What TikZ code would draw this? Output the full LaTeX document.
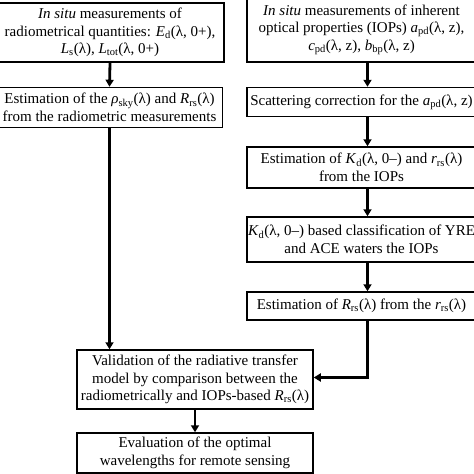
\documentclass[tikz,border=0pt]{standalone}
\usepackage{fontspec}
\setmainfont{Liberation Serif}
\usetikzlibrary{arrows.meta}
\newcommand{\sbs}[1]{\textsubscript{#1}}
\begin{document}
\begin{tikzpicture}[x=1pt,y=-1pt,
  box/.style={draw, line width=1.5pt, align=center, inner sep=0pt, anchor=center,
    font=\fontsize{15}{17.5}\selectfont},
  arr/.style={line width=2.8pt, -{Triangle[length=7pt,width=8pt]}}]
\useasboundingbox (0,0) rectangle (474,474);
\clip (0,0) rectangle (474,474);
\fill[white] (0,0) rectangle (474,474);
% left column
\node[box, minimum width=228pt, minimum height=59pt] (L1) at (110,32.5)
  {\textit{In situ} measurements of\\ radiometrical quantities: \textit{E}\sbs{d}(λ, 0+),\\ \textit{L}\sbs{s}(λ), \textit{L}\sbs{tot}(λ, 0+)};
\node[box, minimum width=226pt, minimum height=40pt] (L2) at (109.5,107.5)
  {Estimation of the \textit{ρ}\sbs{sky}(λ) and \textit{R}\sbs{rs}(λ)\\ from the radiometric measurements};
% right column
\node[box, minimum width=229pt, minimum height=65pt] (R1) at (361.5,29.5)
  {\textit{In situ} measurements of inherent\\ optical properties (IOPs) \textit{a}\sbs{pd}(λ, z),\\ \textit{c}\sbs{pd}(λ, z), \textit{b}\sbs{bp}(λ, z)};
\node[box, minimum width=229pt, minimum height=29pt] (R2) at (361.5,102)
  {Scattering correction for the \textit{a}\sbs{pd}(λ, z)};
\node[box, minimum width=229pt, minimum height=41pt] (R3) at (361.5,167.5)
  {Estimation of \textit{K}\sbs{d}(λ, 0–) and \textit{r}\sbs{rs}(λ)\\ from the IOPs};
\node[box, minimum width=229pt, minimum height=45pt] (R4) at (361.5,239.5)
  {\textit{K}\sbs{d}(λ, 0–) based classification of YRE\\ and ACE waters the IOPs};
\node[box, minimum width=229pt, minimum height=28pt] (R5) at (361.5,306)
  {Estimation of \textit{R}\sbs{rs}(λ) from the \textit{r}\sbs{rs}(λ)};
% bottom
\node[box, minimum width=236pt, minimum height=59pt] (V) at (195,379.5)
  {Validation of the radiative transfer\\ model by comparison between the\\ radiometrically and IOPs-based \textit{R}\sbs{rs}(λ)};
\node[box, minimum width=236pt, minimum height=40pt] (E) at (195,453)
  {Evaluation of the optimal\\ wavelengths for remote sensing};
% connectors
\draw[arr] (L1.south) -- (L2.north);
\draw[arr] (L2.south) -- (L2.south |- V.north);
\draw[arr] ([xshift=6pt]R1.south) -- ([xshift=6pt]R2.north);
\draw[arr] ([xshift=6pt]R2.south) -- ([xshift=6pt]R3.north);
\draw[arr] ([xshift=6pt]R3.south) -- ([xshift=6pt]R4.north);
\draw[arr] ([xshift=6pt]R4.south) -- ([xshift=6pt]R5.north);
\draw[arr] ([xshift=6pt]R5.south) |- ([yshift=2pt]V.east);
\draw[arr] (V.south) -- (E.north);
\end{tikzpicture}
\end{document}
